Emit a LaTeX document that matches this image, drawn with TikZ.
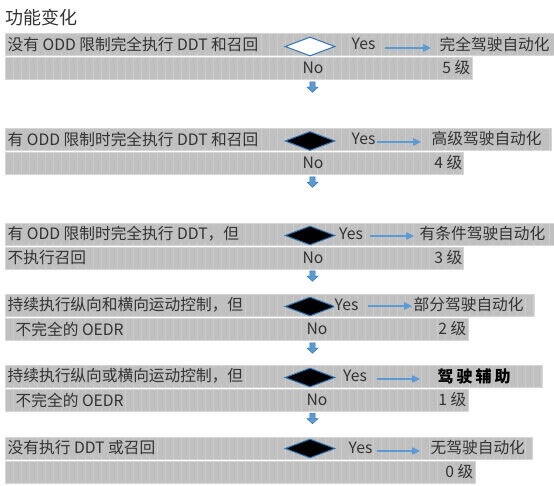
\documentclass[tikz,border=0pt]{standalone}
\usepackage{fontspec}
\setmainfont{Noto Sans CJK SC}
\usetikzlibrary{shapes.geometric,arrows.meta}
\definecolor{band}{HTML}{C0C0C0}
\definecolor{stripe}{HTML}{CDCDCD}
\definecolor{bandedge}{HTML}{D6D6D6}
\definecolor{txt}{HTML}{333333}
\definecolor{lblue}{HTML}{5B9BD5}
\definecolor{dblue}{HTML}{2E75B6}
\newcommand{\bandrow}[3]{%
  \fill[band,draw=bandedge,line width=0.6pt] (5,#1) rectangle (#3,#2);
  \foreach \xx in {13,21,...,#3} {\draw[stripe,line width=0.7pt] (\xx,#1) -- (\xx,#2);}}
\newcommand{\downblock}[1]{%
  \draw[fill=lblue, draw=dblue, line width=0.5pt, line join=miter]
    ([shift={(-2.6,-5.2)}]#1) -- ([shift={(2.6,-5.2)}]#1) -- ([shift={(2.6,0)}]#1)
    -- ([shift={(5.6,0)}]#1) -- ([shift={(0,5.2)}]#1) -- ([shift={(-5.6,0)}]#1)
    -- ([shift={(-2.6,0)}]#1) -- cycle;}
\begin{document}
\begin{tikzpicture}[x=1pt,y=-1pt,
  lbl/.style={font=\fontsize{15.7}{16}\selectfont, text=txt, inner sep=0.5pt, fill=band},
  lvl/.style={lbl, anchor=east},
  tgt/.style={lbl, anchor=west},
  lefttxt/.style={lbl, anchor=west},
  decision/.style={diamond, draw=dblue, line width=1pt, fill=black, minimum width=50pt, minimum height=19pt, inner sep=0pt},
  yesarr/.style={-{Triangle[length=8pt,width=7.5pt]}, draw=lblue, line width=1.1pt}]
\useasboundingbox (0,0) rectangle (554,485);
\fill[white] (0,0) rectangle (554,485);

\node[font=\fontsize{18}{18}\selectfont, text=txt, anchor=west, inner sep=0pt] (title) at (5,17.5) {功能变化};

% ---------- block 1
\bandrow{33}{55}{554}
\bandrow{57}{79}{472}
\node[lefttxt] (q1) at (7,44) {没有 ODD 限制完全执行 DDT 和召回};
\node[decision, fill=white] (d1) at (310,46.5) {};
\node[lbl] (y1) at (363.5,44) {Yes};
\coordinate (a1) at (385,48);
\node[tgt] (t1) at (439,44) {完全驾驶自动化};
\draw[yesarr] (a1) -- (t1.west |- a1) [shorten >=8pt];
\node[lbl] (n1) at (313,68) {No};
\node[lvl] (l1) at (471,68) {5 级};
\coordinate (v1) at (312.5,87);
\downblock{v1}

% ---------- block 2
\bandrow{128}{150}{551}
\bandrow{152}{174}{463}
\node[lefttxt] (q2) at (7,139) {有 ODD 限制时完全执行 DDT 和召回};
\node[decision] (d2) at (310,141) {};
\node[lbl] (y2) at (363.5,139) {Yes};
\coordinate (a2) at (377,142);
\node[tgt] (t2) at (431,139) {高级驾驶自动化};
\draw[yesarr] (a2) -- (t2.west |- a2) [shorten >=10pt];
\node[lbl] (n2) at (313,163) {No};
\node[lvl] (l2) at (463,163) {4 级};
\coordinate (v2) at (312.5,182);
\downblock{v2}

% ---------- block 3
\bandrow{223}{245}{554}
\bandrow{247}{269}{463}
\node[lefttxt] (q3) at (7,234) {有 ODD 限制时完全执行 DDT，但};
\node[lefttxt] (q3b) at (7,258) {不执行召回};
\node[decision] (d3) at (310,235.5) {};
\node[lbl] (y3) at (351,234) {Yes};
\coordinate (a3) at (370,236);
\node[tgt] (t3) at (419,234) {有条件驾驶自动化};
\draw[yesarr] (a3) -- (t3.west |- a3) [shorten >=5pt];
\node[lbl] (n3) at (313,258) {No};
\node[lvl] (l3) at (463,258) {3 级};
\coordinate (v3) at (312.5,276);
\downblock{v3}

% ---------- block 4
\bandrow{294}{316}{534}
\bandrow{318}{340}{468}
\node[lefttxt] (q4) at (7,305) {持续执行纵向和横向运动控制，但};
\node[lefttxt] (q4b) at (15,329) {不完全的 OEDR};
\node[decision] (d4) at (310,306.5) {};
\node[lbl] (y4) at (346.5,305) {Yes};
\coordinate (a4) at (368,306);
\node[tgt] (t4) at (413,305) {部分驾驶自动化};
\draw[yesarr] (a4) -- (t4.west |- a4) [shorten >=1pt];
\node[lbl] (n4) at (317,329) {No};
\node[lvl] (l4) at (467,329) {2 级};
\coordinate (v4) at (312.5,348);
\downblock{v4}

% ---------- block 5
\bandrow{365}{387}{542}
\bandrow{389}{411}{468}
\node[lefttxt] (q5) at (7,376) {持续执行纵向或横向运动控制，但};
\node[lefttxt] (q5b) at (15,400) {不完全的 OEDR};
\node[decision] (d5) at (310,377.5) {};
\node[lbl] (y5) at (355,376) {Yes};
\coordinate (a5) at (377,379);
\node[tgt, text=black, font=\fontsize{16}{16}\selectfont\bfseries] (t5) at (437,376) {驾\hspace{3pt}驶\hspace{3pt}辅\hspace{3pt}助};
\draw[yesarr] (a5) -- (t5.west |- a5) [shorten >=17pt];
\node[lbl] (n5) at (317,400) {No};
\node[lvl] (l5) at (467,400) {1 级};
\coordinate (v5) at (312.5,418.5);
\downblock{v5}

% ---------- block 6
\bandrow{437}{459}{532}
\bandrow{461}{483}{475}
\node[lefttxt] (q6) at (7,448) {没有执行 DDT 或召回};
\node[decision] (d6) at (310,448.5) {};
\node[lbl] (y6) at (360.5,448) {Yes};
\coordinate (a6) at (377,451);
\node[tgt] (t6) at (430,448) {无驾驶自动化};
\draw[yesarr] (a6) -- (t6.west |- a6) [shorten >=10pt];
\node[lvl] (l6) at (474,472) {0 级};
\end{tikzpicture}
\end{document}
